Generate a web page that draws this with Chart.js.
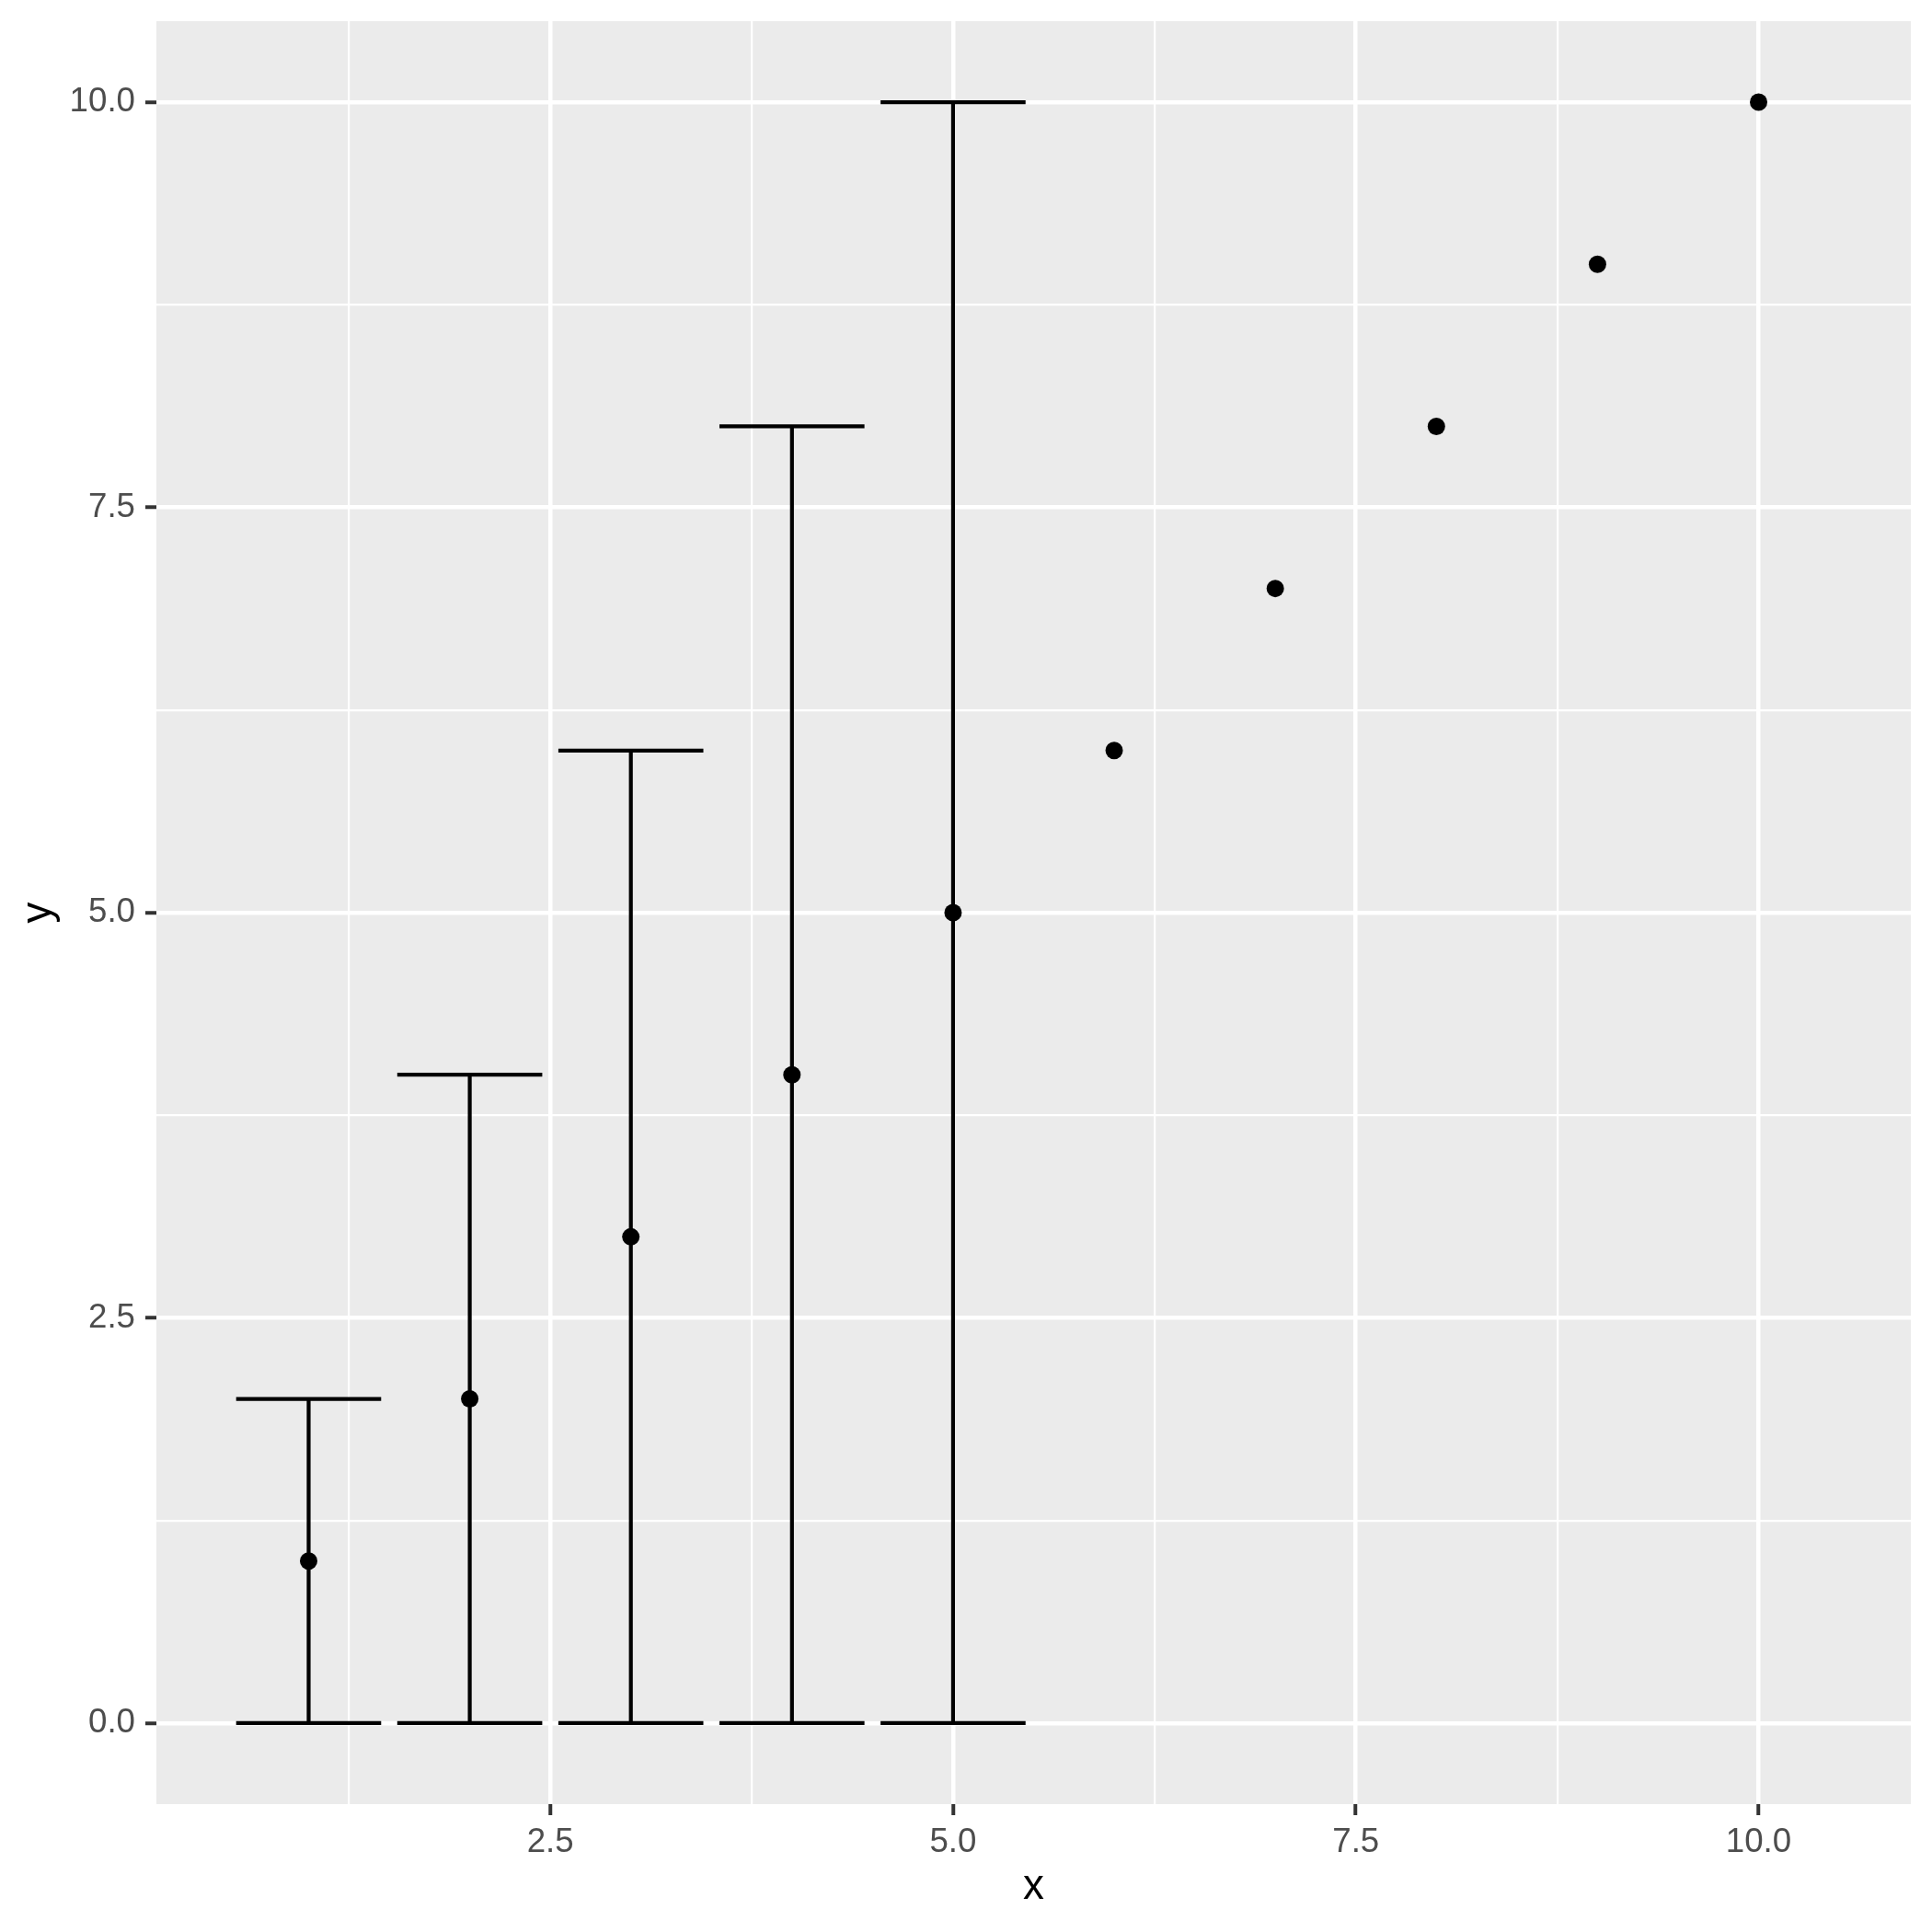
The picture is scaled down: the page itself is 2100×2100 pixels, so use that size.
<!DOCTYPE html>
<html>
<head>
<meta charset="utf-8">
<script src="https://cdn.jsdelivr.net/npm/chart.js@4.4.1/dist/chart.umd.min.js"></script>
<style>
  html, body { margin: 0; padding: 0; background: #ffffff; }
  canvas { display: block; }
</style>
</head>
<body>
<canvas id="c" width="2100" height="2100" style="width:2100px;height:2100px"></canvas>
<script>
// ---- data ----
const xValues = [1, 2, 3, 4, 5, 6, 7, 8, 9, 10];
const yValues = [1, 2, 3, 4, 5, 6, 7, 8, 9, 10];
const errX    = [1, 2, 3, 4, 5];
const errMin  = [0, 0, 0, 0, 0];
const errMax  = [2, 4, 6, 8, 10];
const errWidth = 0.9;

const xMajorTicks = [2.5, 5, 7.5, 10];
const xMajorLabels = ['2.5', '5.0', '7.5', '10.0'];
const xMinorTicks = [1.25, 3.75, 6.25, 8.75];
const yMajorTicks = [0, 2.5, 5, 7.5, 10];
const yMajorLabels = ['0.0', '2.5', '5.0', '7.5', '10.0'];
const yMinorTicks = [1.25, 3.75, 6.25, 8.75];

const xRange = [0.055, 10.945];
const yRange = [-0.5, 10.5];

// ---- build datasets ----
const pointData = xValues.map((x, i) => ({ x: x, y: yValues[i] }));
const errData = [];
errX.forEach((x, i) => {
  const h = errWidth / 2;
  errData.push({ x: x - h, y: errMax[i] }, { x: x + h, y: errMax[i] }, { x: x, y: null });
  errData.push({ x: x, y: errMax[i] }, { x: x, y: errMin[i] }, { x: x, y: null });
  errData.push({ x: x - h, y: errMin[i] }, { x: x + h, y: errMin[i] }, { x: x, y: null });
});

const FONT = '"Liberation Sans", Arial, Helvetica, sans-serif';

function tickSetter(major, minor) {
  return function (scale) {
    const all = major.concat(minor).sort((a, b) => a - b);
    scale.ticks = all.map(v => ({ value: v }));
  };
}
function labelFor(major, labels) {
  return function (value) {
    const idx = major.findIndex(m => Math.abs(m - value) < 1e-9);
    return idx >= 0 ? labels[idx] : '';
  };
}
function isMajor(major, v) {
  return major.some(m => Math.abs(m - v) < 1e-9);
}

const panelBg = {
  id: 'panelBg',
  beforeDraw(chart) {
    const a = chart.chartArea;
    const ctx = chart.ctx;
    ctx.save();
    ctx.fillStyle = '#EBEBEB';
    ctx.fillRect(a.left, a.top, a.right - a.left, a.bottom - a.top);
    ctx.restore();
  }
};

new Chart(document.getElementById('c'), {
  type: 'scatter',
  data: {
    datasets: [
      {
        type: 'line',
        label: 'errorbar',
        data: errData,
        borderColor: '#000000',
        borderWidth: 4.2,
        pointRadius: 0,
        pointHoverRadius: 0,
        spanGaps: false,
        fill: false,
        tension: 0,
        order: 2
      },
      {
        type: 'scatter',
        label: 'points',
        data: pointData,
        backgroundColor: '#000000',
        borderColor: '#000000',
        borderWidth: 0,
        pointRadius: 9.5,
        pointHoverRadius: 9.5,
        order: 1
      }
    ]
  },
  options: {
    responsive: false,
    devicePixelRatio: 1,
    animation: false,
    events: [],
    layout: { padding: { left: 0, top: 23, right: 23, bottom: 0 } },
    plugins: { legend: { display: false }, tooltip: { enabled: false } },
    scales: {
      x: {
        type: 'linear',
        min: xRange[0],
        max: xRange[1],
        afterBuildTicks: tickSetter(xMajorTicks, xMinorTicks),
        afterFit(scale) { scale.height = 139; scale.paddingLeft = 0; scale.paddingRight = 0; },
        border: { display: false },
        grid: {
          color: '#FFFFFF',
          lineWidth: ctx => (ctx.tick && isMajor(xMajorTicks, ctx.tick.value)) ? 4.5 : 2.2,
          drawTicks: true,
          tickLength: 12,
          tickWidth: 4,
          tickColor: ctx => (ctx.tick && isMajor(xMajorTicks, ctx.tick.value)) ? '#333333' : 'rgba(0,0,0,0)'
        },
        ticks: {
          autoSkip: false,
          maxRotation: 0,
          minRotation: 0,
          padding: 8,
          color: '#4D4D4D',
          font: { family: FONT, size: 36.7 },
          callback: labelFor(xMajorTicks, xMajorLabels)
        },
        title: {
          display: true,
          text: 'x',
          color: '#000000',
          font: { family: FONT, size: 45.8 },
          padding: { top: 0, bottom: 21 }
        }
      },
      y: {
        type: 'linear',
        min: yRange[0],
        max: yRange[1],
        afterBuildTicks: tickSetter(yMajorTicks, yMinorTicks),
        afterFit(scale) { scale.width = 170; scale.paddingTop = 0; scale.paddingBottom = 0; },
        border: { display: false },
        grid: {
          color: '#FFFFFF',
          lineWidth: ctx => (ctx.tick && isMajor(yMajorTicks, ctx.tick.value)) ? 4.5 : 2.2,
          drawTicks: true,
          tickLength: 12,
          tickWidth: 4,
          tickColor: ctx => (ctx.tick && isMajor(yMajorTicks, ctx.tick.value)) ? '#333333' : 'rgba(0,0,0,0)'
        },
        ticks: {
          autoSkip: false,
          padding: 11,
          color: '#4D4D4D',
          font: { family: FONT, size: 36.7 },
          callback: labelFor(yMajorTicks, yMajorLabels)
        },
        title: {
          display: true,
          text: 'y',
          color: '#000000',
          font: { family: FONT, size: 45.8 },
          padding: { top: 15, bottom: 0 }
        }
      }
    }
  },
  plugins: [panelBg]
});
</script>
</body>
</html>
